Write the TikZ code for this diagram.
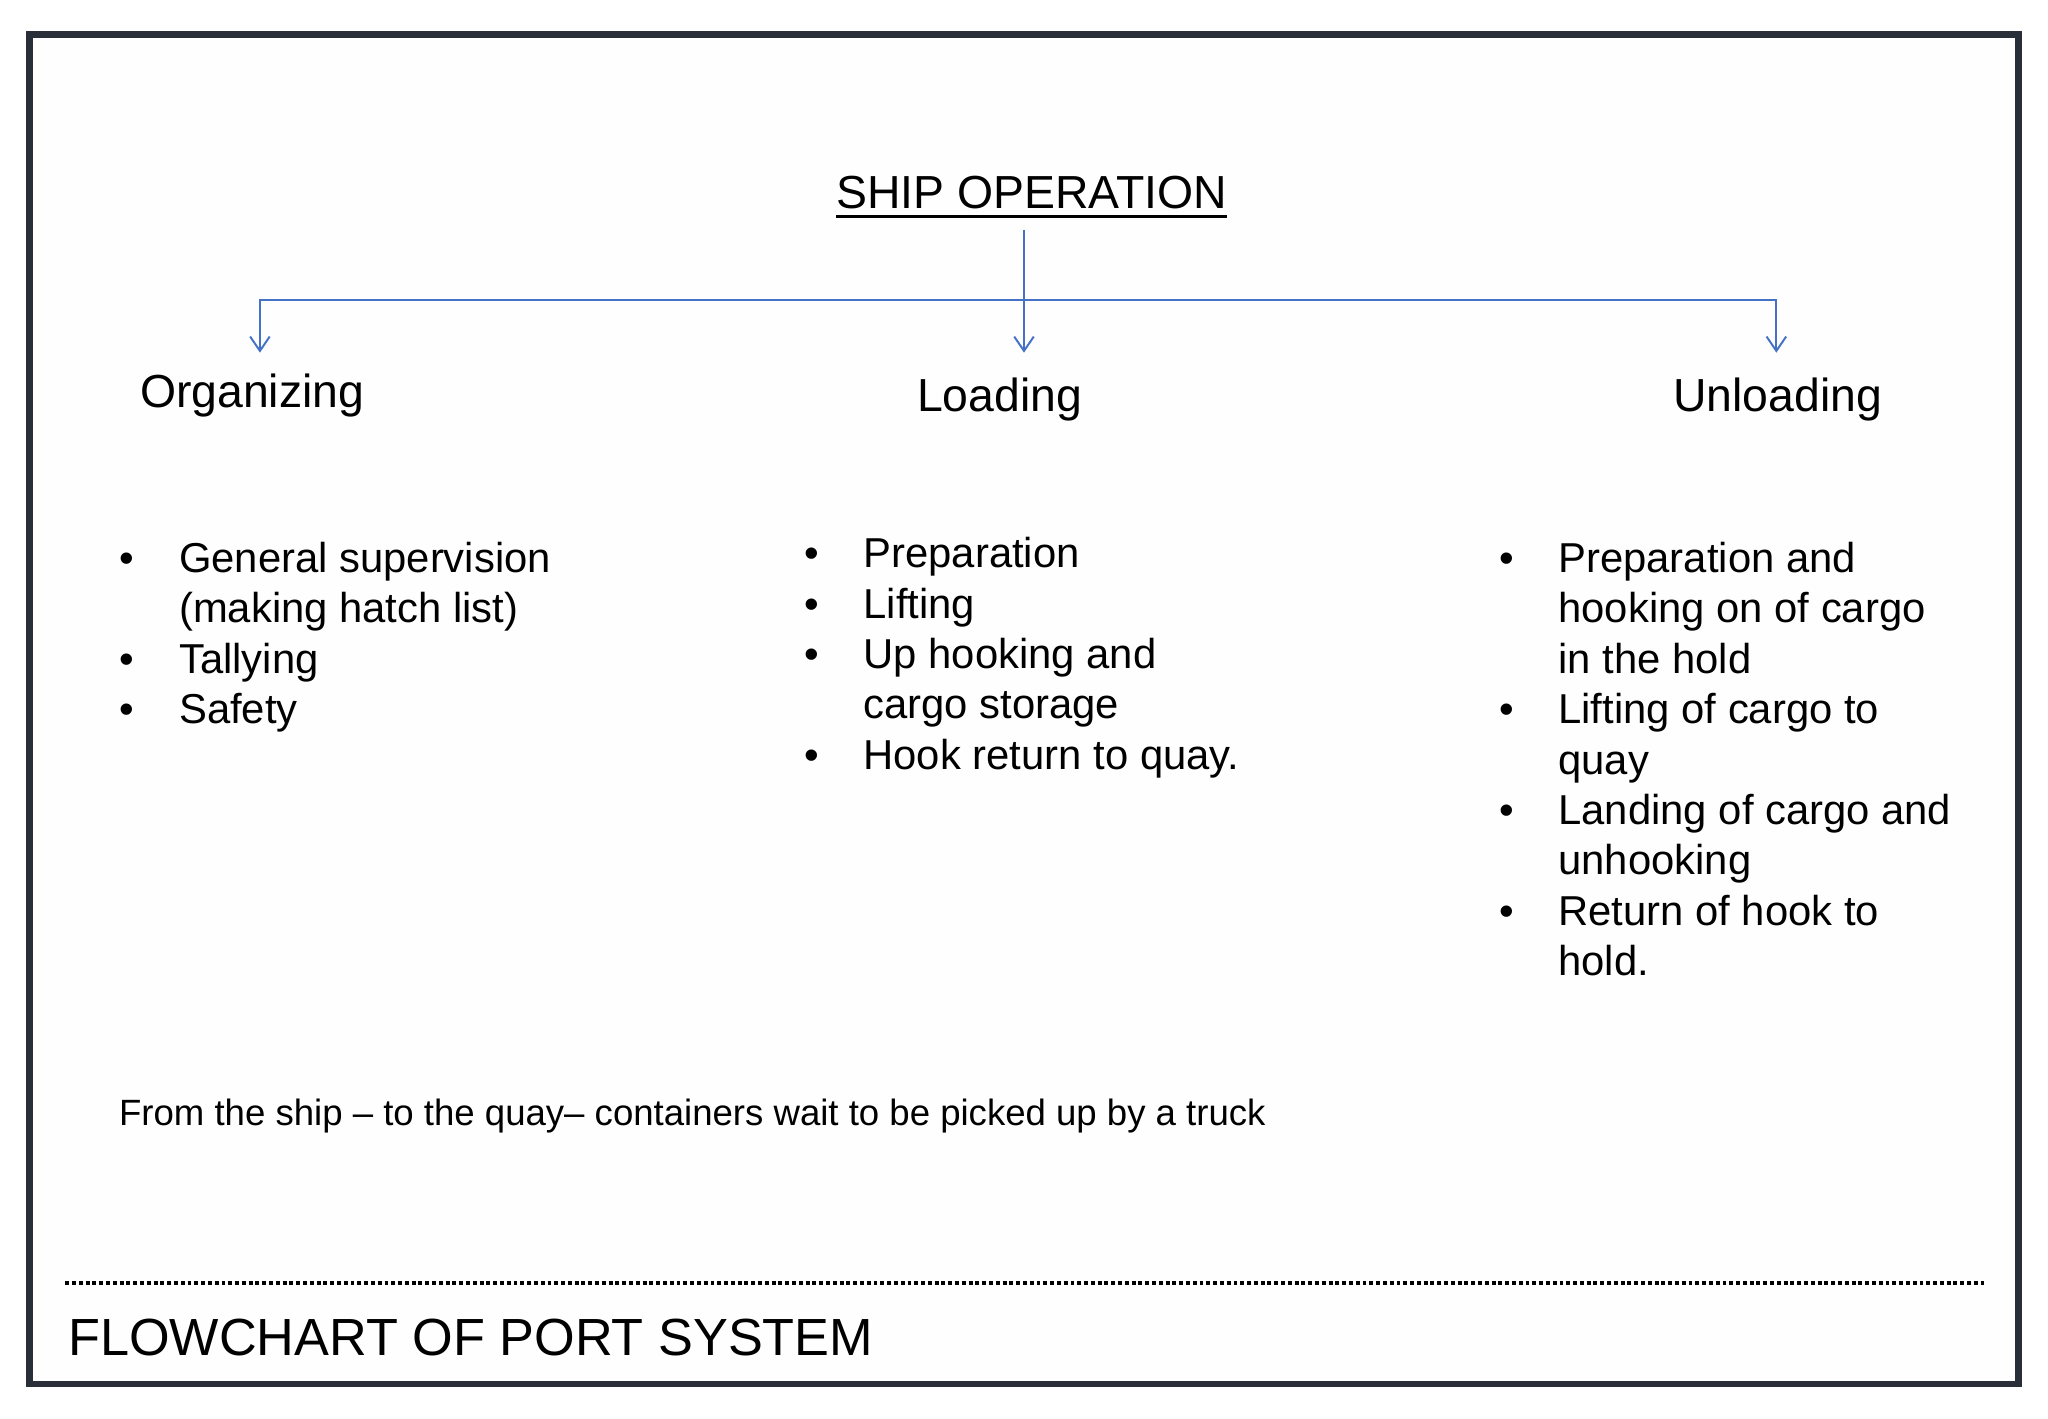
\documentclass[tikz,border=0pt]{standalone}
\usepackage{fontspec}
\setmainfont{Liberation Sans}
\usetikzlibrary{arrows.meta}
\usetikzlibrary{positioning}
\definecolor{framegray}{HTML}{2A2E38}
\definecolor{linkblue}{HTML}{4472C4}
\newcommand{\bul}{\makebox[45.5pt][l]{\textbullet}}
\newcommand{\ind}{\hspace*{45.5pt}}
\tikzset{head/.style={font=\fontsize{35.5}{42}\selectfont, inner sep=0, anchor=base west}}
\tikzset{blist/.style={font=\fontsize{32}{38.6}\selectfont, align=left, inner sep=0, anchor=base west}}

\begin{document}
\begin{tikzpicture}[x=1pt, y=-1pt]
\tikzstyle{link} = [linkblue, line width=1.5pt]
\tikzstyle{linkarrow} = [link, -{Straight Barb[length=11pt, width=15pt]}]
\useasboundingbox[fill=white] (0,0) rectangle (1568,1086);
% frame
\draw[framegray, line width=5pt, fill=white!99.5!black] (22.5,26.5) rectangle (1545.5,1059.5);
% title
\node[head, anchor=base] (ship) at (790,160) {SHIP OPERATION};
\draw[line width=2.5pt] ([yshift=-5.5pt]ship.base west) -- ([yshift=-5.5pt]ship.base east);
\coordinate (top) at (784,176);
\coordinate (fork) at (784,230);
\coordinate (aorg) at (199,270);
\coordinate (aload) at (784,270);
\coordinate (aunload) at (1360,270);
\draw[link] (top) -- (fork);
\draw[linkarrow] (fork) -| (aorg);
\draw[linkarrow] (fork) -- (aload);
\draw[linkarrow] (fork) -| (aunload);
% branches
\node[head] (org) at (107,312) {Organizing};
\node[head] (load) at (702,315) {Loading};
\node[head] (unload) at (1281,315) {Unloading};
% lists (base = baseline of the last line)
\node[blist] (orglist) at (91.5,554) {\bul General supervision\\ \ind(making hatch list)\\ \bul Tallying\\ \bul Safety};
\node[blist] (loadlist) at (615.5,589) {\bul Preparation\\ \bul Lifting\\ \bul Up hooking and\\ \ind cargo storage\\ \bul Hook return to quay.};
\node[blist] (unloadlist) at (1147.5,747) {\bul Preparation and\\ \ind hooking on of cargo\\ \ind in the hold\\ \bul Lifting of cargo to\\ \ind quay\\ \bul Landing of cargo and\\ \ind unhooking\\ \bul Return of hook to\\ \ind hold.};
% note
\node[font=\fontsize{28}{33}\selectfont, inner sep=0, anchor=base west] (note) at (91,862) {From the ship -- to the quay-- containers wait to be picked up by a truck};
% footer
\coordinate (dl) at (50,982);
\coordinate (dr) at (1519,982);
\draw[line width=3pt, dash pattern=on 3pt off 2.2pt] (dl) -- (dr);
\node[font=\fontsize{40}{48}\selectfont, inner sep=0, anchor=base west] (foot) at (52,1038) {FLOWCHART OF PORT SYSTEM};
\end{tikzpicture}
\end{document}
